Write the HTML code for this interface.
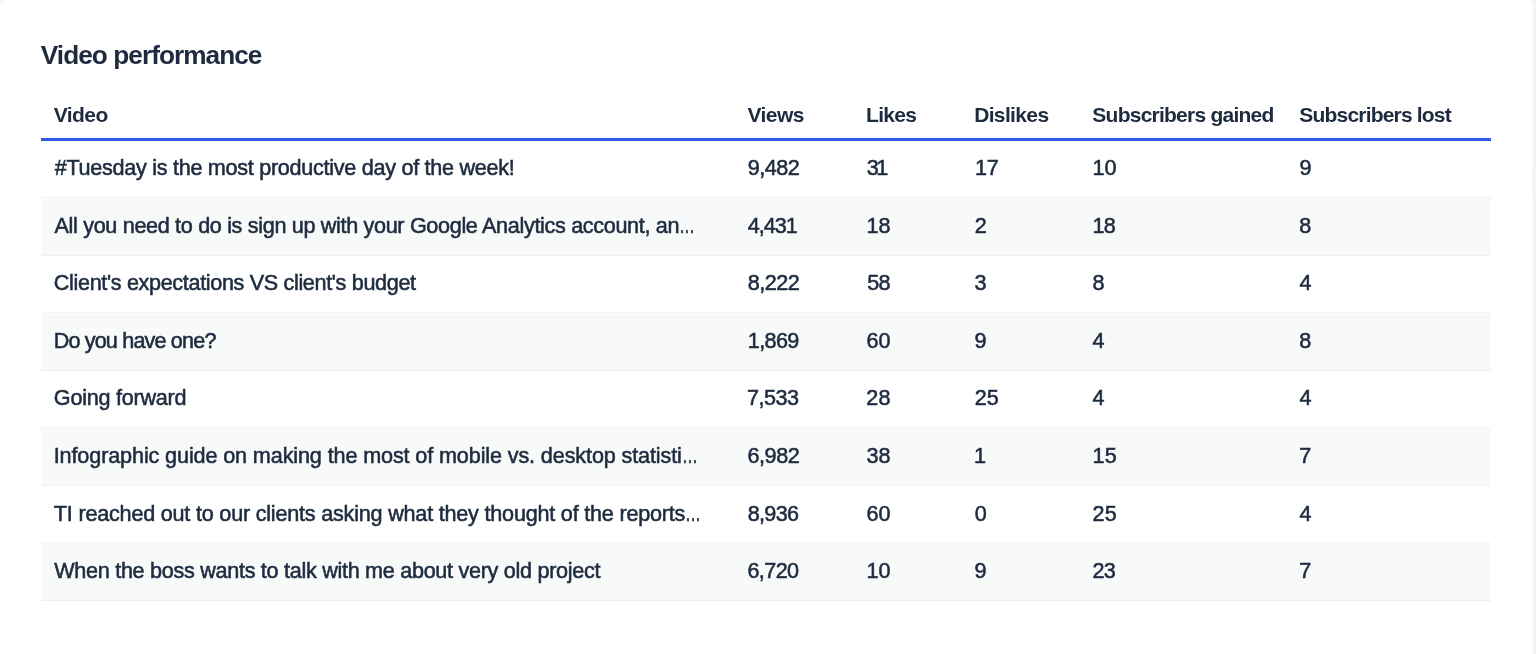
<!DOCTYPE html>
<html lang="en"><head><meta charset="utf-8"><title>Video performance</title>
<style>
html,body{margin:0;padding:0;}
body{width:1536px;height:654px;overflow:hidden;background:#f3f5f5;font-family:"Liberation Sans",Arial,sans-serif;color:#1e2b3f;position:relative;}
.card{position:absolute;left:0;top:0;width:1532px;height:700px;background:#fff;border-radius:5px 4px 0 0;}
table,thead,tbody,tr{display:contents;}
th,td{padding:0;text-align:left;font-weight:400;}
.t{position:absolute;white-space:nowrap;line-height:1;transform-origin:0 0;}
h2.t{margin:0;font-size:26.2px;font-weight:700;left:40.82px;top:41.6px;color:#1e2b3f;}
.th{font-weight:700;font-size:21px;}
.td{font-size:21.6px;-webkit-text-stroke:0.55px #1e2b3f;}
.el{display:inline-block;transform:scaleX(.74);transform-origin:0 center;letter-spacing:0;}
.line{position:absolute;left:41px;width:1450px;}
.stripe{background:#f8fafa;}
.bd{background:#eef0f3;height:1px;}
</style></head><body>
<div class="card">
<h2 class="t" style="letter-spacing:-0.948px;">Video performance</h2>

<div class="line" style="top:138px;height:3px;background:#2a56df"></div>
<div class="line" style="top:139px;height:1px;background:#3864e2"></div>
<div class="line" style="top:197px;height:1px;background:#eff1f4"></div>
<div class="line" style="top:198px;height:1px;background:#fbfcfc"></div>
<div class="line" style="top:199px;height:55px;background:#f8fafa"></div>
<div class="line" style="top:254px;height:1px;background:#f4f6f7"></div>
<div class="line" style="top:255px;height:1px;background:#eef0f3"></div>
<div class="line" style="top:312px;height:1px;background:#f0f2f5"></div>
<div class="line" style="top:313px;height:1px;background:#fbfcfc"></div>
<div class="line" style="top:314px;height:56px;background:#f8fafa"></div>
<div class="line" style="top:370px;height:1px;background:#edf0f2"></div>
<div class="line" style="top:427px;height:1px;background:#f5f6f8"></div>
<div class="line" style="top:428px;height:1px;background:#f6f7f9"></div>
<div class="line" style="top:429px;height:56px;background:#f8fafa"></div>
<div class="line" style="top:485px;height:1px;background:#edf0f2"></div>
<div class="line" style="top:542px;height:1px;background:#f8f9fb"></div>
<div class="line" style="top:543px;height:1px;background:#f5f6f9"></div>
<div class="line" style="top:544px;height:56px;background:#f8fafa"></div>
<div class="line" style="top:600px;height:1px;background:#edf0f2"></div>
<div class="line" style="top:601px;height:1px;background:#fcfdfd"></div>
<table><thead><tr>
<th class="t th" id="h0" style="left:53.73px;top:104.1px;letter-spacing:-0.574px;">Video</th>
<th class="t th" id="h1" style="left:747.42px;top:104.1px;letter-spacing:-0.506px;">Views</th>
<th class="t th" id="h2" style="left:866.10px;top:104.1px;letter-spacing:-0.743px;">Likes</th>
<th class="t th" id="h3" style="left:974.15px;top:104.1px;letter-spacing:-0.636px;">Dislikes</th>
<th class="t th" id="h4" style="left:1092.37px;top:104.1px;letter-spacing:-0.762px;">Subscribers gained</th>
<th class="t th" id="h5" style="left:1299.37px;top:104.1px;letter-spacing:-0.819px;">Subscribers lost</th>
</tr></thead><tbody>
<tr>
<td class="t td" id="r0c0" style="left:54.77px;top:156.70px;letter-spacing:-0.284px;">#Tuesday is the most productive day of the week!</td>
<td class="t td" id="r0c1" style="left:747.68px;top:156.70px;letter-spacing:-0.495px;">9,482</td>
<td class="t td" id="r0c2" style="left:866.64px;top:156.70px;letter-spacing:-2.295px;">31</td>
<td class="t td" id="r0c3" style="left:974.91px;top:156.70px;letter-spacing:-0.135px;">17</td>
<td class="t td" id="r0c4" style="left:1092.46px;top:156.70px;">10</td>
<td class="t td" id="r0c5" style="left:1299.48px;top:156.70px;">9</td>
</tr>
<tr>
<td class="t td" id="r1c0" style="left:54.54px;top:214.70px;letter-spacing:-0.329px;">All you need to do is sign up with your Google Analytics account, an<span class="el">…</span></td>
<td class="t td" id="r1c1" style="left:747.73px;top:214.70px;letter-spacing:-0.990px;">4,431</td>
<td class="t td" id="r1c2" style="left:866.55px;top:214.70px;letter-spacing:-0.090px;">18</td>
<td class="t td" id="r1c3" style="left:974.80px;top:214.70px;">2</td>
<td class="t td" id="r1c4" style="left:1092.46px;top:214.70px;letter-spacing:-0.720px;">18</td>
<td class="t td" id="r1c5" style="left:1299.37px;top:214.70px;">8</td>
</tr>
<tr>
<td class="t td" id="r2c0" style="left:53.87px;top:271.70px;letter-spacing:-0.342px;">Client's expectations VS client's budget</td>
<td class="t td" id="r2c1" style="left:747.68px;top:271.70px;letter-spacing:-0.495px;">8,222</td>
<td class="t td" id="r2c2" style="left:867.13px;top:271.70px;letter-spacing:-0.675px;">58</td>
<td class="t td" id="r2c3" style="left:974.60px;top:271.70px;">3</td>
<td class="t td" id="r2c4" style="left:1092.59px;top:271.70px;">8</td>
<td class="t td" id="r2c5" style="left:1299.55px;top:271.70px;">4</td>
</tr>
<tr>
<td class="t td" id="r3c0" style="left:53.64px;top:329.70px;letter-spacing:-0.834px;">Do you have one?</td>
<td class="t td" id="r3c1" style="left:747.82px;top:329.70px;letter-spacing:-0.641px;">1,869</td>
<td class="t td" id="r3c2" style="left:866.50px;top:329.70px;letter-spacing:-0.045px;">60</td>
<td class="t td" id="r3c3" style="left:974.48px;top:329.70px;">9</td>
<td class="t td" id="r3c4" style="left:1092.59px;top:329.70px;">4</td>
<td class="t td" id="r3c5" style="left:1299.37px;top:329.70px;">8</td>
</tr>
<tr>
<td class="t td" id="r4c0" style="left:53.87px;top:386.70px;letter-spacing:-0.255px;">Going forward</td>
<td class="t td" id="r4c1" style="left:747.05px;top:386.70px;letter-spacing:-0.506px;">7,533</td>
<td class="t td" id="r4c2" style="left:866.37px;top:386.70px;letter-spacing:0.090px;">28</td>
<td class="t td" id="r4c3" style="left:974.77px;top:386.70px;">25</td>
<td class="t td" id="r4c4" style="left:1092.59px;top:386.70px;">4</td>
<td class="t td" id="r4c5" style="left:1299.55px;top:386.70px;">4</td>
</tr>
<tr>
<td class="t td" id="r5c0" style="left:53.73px;top:444.70px;letter-spacing:-0.121px;">Infographic guide on making the most of mobile vs. desktop statisti<span class="el">…</span></td>
<td class="t td" id="r5c1" style="left:747.46px;top:444.70px;letter-spacing:-0.439px;">6,982</td>
<td class="t td" id="r5c2" style="left:866.60px;top:444.70px;letter-spacing:-0.135px;">38</td>
<td class="t td" id="r5c3" style="left:974.03px;top:444.70px;">1</td>
<td class="t td" id="r5c4" style="left:1092.46px;top:444.70px;letter-spacing:0.360px;">15</td>
<td class="t td" id="r5c5" style="left:1299.37px;top:444.70px;">7</td>
</tr>
<tr>
<td class="t td" id="r6c0" style="left:53.87px;top:502.70px;letter-spacing:-0.210px;">TI reached out to our clients asking what they thought of the reports<span class="el">…</span></td>
<td class="t td" id="r6c1" style="left:747.68px;top:502.70px;letter-spacing:-0.664px;">8,936</td>
<td class="t td" id="r6c2" style="left:866.50px;top:502.70px;letter-spacing:-0.045px;">60</td>
<td class="t td" id="r6c3" style="left:974.80px;top:502.70px;">0</td>
<td class="t td" id="r6c4" style="left:1092.51px;top:502.70px;letter-spacing:0.315px;">25</td>
<td class="t td" id="r6c5" style="left:1299.55px;top:502.70px;">4</td>
</tr>
<tr>
<td class="t td" id="r7c0" style="left:54.23px;top:559.70px;letter-spacing:-0.291px;">When the boss wants to talk with me about very old project</td>
<td class="t td" id="r7c1" style="left:747.46px;top:559.70px;letter-spacing:-0.607px;">6,720</td>
<td class="t td" id="r7c2" style="left:866.55px;top:559.70px;letter-spacing:-0.090px;">10</td>
<td class="t td" id="r7c3" style="left:974.48px;top:559.70px;">9</td>
<td class="t td" id="r7c4" style="left:1092.51px;top:559.70px;letter-spacing:-0.765px;">23</td>
<td class="t td" id="r7c5" style="left:1299.37px;top:559.70px;">7</td>
</tr>
</tbody></table>
</div>
<div style="position:absolute;left:1532px;top:4px;width:1px;height:700px;background:#fafbfb"></div>
<div style="position:absolute;left:1532px;top:170px;width:1px;height:25px;background:#f5f6f7"></div>
</body></html>
